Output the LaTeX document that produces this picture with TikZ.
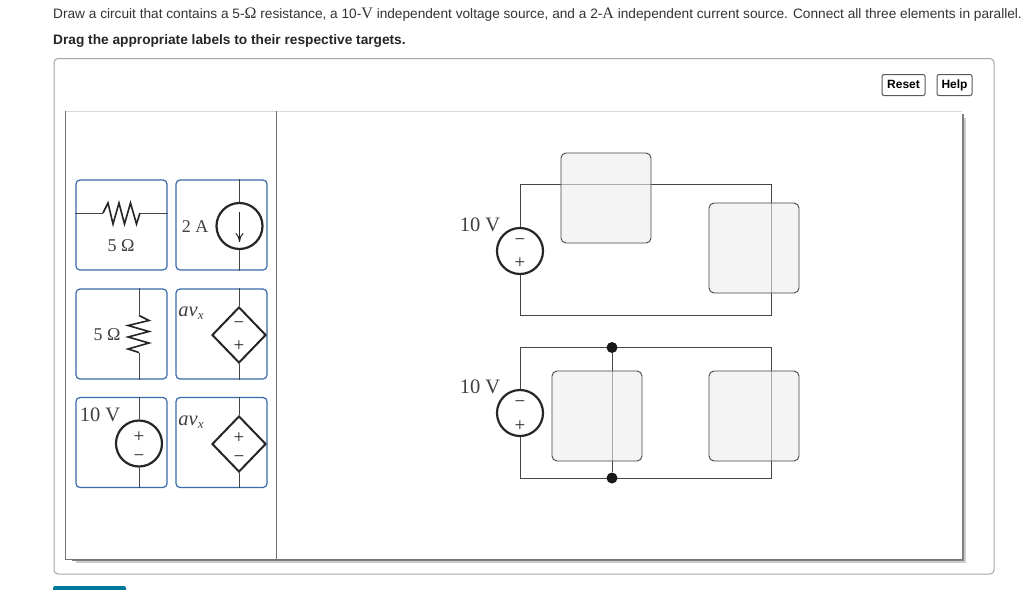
\documentclass[tikz,border=0pt]{standalone}
\usepackage{fontspec}
\setmainfont{Liberation Sans}
\newfontfamily\circuitfont{Liberation Serif}
\usetikzlibrary{calc}
\usetikzlibrary{positioning}
\usetikzlibrary{arrows.meta}
\usetikzlibrary{shapes.geometric}
\definecolor{tileblue}{RGB}{58,107,170}
\definecolor{panelgray}{RGB}{165,165,165}
\definecolor{wiregray}{RGB}{70,70,70}
\definecolor{targetfill}{RGB}{238,238,238}
\definecolor{submitteal}{RGB}{0,122,155}
\newcommand{\avlabel}{{\itshape av}\raisebox{-0.35ex}{\fontsize{13}{13}\selectfont\itshape x}}
\tikzset{
  tile/.style={draw=tileblue, line width=1.2pt, rounded corners=4pt, minimum width=91pt, minimum height=90pt, inner sep=0pt, fill=white},
  target/.style={draw=wiregray, line width=0.9pt, rounded corners=5pt, fill=targetfill, fill opacity=0.6, draw opacity=1, minimum width=90pt, minimum height=90pt, inner sep=0pt},
  wire/.style={draw=wiregray, line width=1pt},
  source/.style={circle, draw=black!85, line width=2.2pt, minimum size=46pt, inner sep=0pt, fill=white},
  dep/.style={diamond, draw=black!85, line width=2pt, minimum width=54pt, minimum height=56pt, inner sep=0pt, fill=white},
  value/.style={font=\circuitfont\fontsize{20.5}{22}\selectfont, text=black!75, inner sep=0pt},
  small value/.style={font=\circuitfont\fontsize{18}{20}\selectfont, text=black!75, inner sep=0pt},
  sign/.style={font=\circuitfont\fontsize{19}{19}\selectfont, text=black!85, inner sep=0pt, yshift=-3pt},
  junction/.style={circle, fill=black!90, minimum size=11pt, inner sep=0pt},
  btn/.style={draw=black!65, line width=1pt, rounded corners=2pt, font=\bfseries\fontsize{12}{14}\selectfont, minimum height=21pt, text height=9pt, text depth=2.5pt, inner sep=0pt},
  resistor/.pic={
    \coordinate (-in) at (-18.5,0);
    \coordinate (-out) at (18.5,0);
    \draw [black!85, line width=1.6pt, line join=miter]
      (-in) -- ++(5,-10) -- ++(5,21) -- ++(6,-21) -- ++(5.5,21) -- ++(6,-21) -- ++(6,21) -- (-out);
  }
}

\begin{document}
\begin{tikzpicture}[x=1pt, y=-1pt]
  \useasboundingbox (0,0) rectangle (1024,589);
  \fill [white] (0,0) rectangle (1024,589);

  % question text
  \node [anchor=west, inner sep=0pt, text=black!80, font=\fontsize{13.67}{15}\selectfont] (question) at (53,14.5)
    {Draw a circuit that contains a 5-{\circuitfont\fontsize{16}{15}\selectfont Ω} resistance, a 10-{\circuitfont\fontsize{16}{15}\selectfont V} independent voltage source, and a 2-{\circuitfont\fontsize{16}{15}\selectfont A} independent current source. Connect all three elements in parallel.};
  \node [anchor=west, inner sep=0pt, text=black!85, font=\bfseries\fontsize{13.7}{15}\selectfont] (drag) at (53,40.5)
    {Drag the appropriate labels to their respective targets.};

  % panel
  \draw [panelgray, line width=1pt, rounded corners=4pt] (54,58.5) rectangle (994,574);
  \fill [submitteal, rounded corners=1.5pt] (53,586) rectangle (126,592);
  \node [btn, minimum width=43pt] (reset) at (903.5,85) {Reset};
  \node [btn, minimum width=35pt] (help) at (954.5,85) {Help};

  % canvas
  \draw [black!20, line width=4pt] (964,118) -- (964,561) -- (76,561);
  \draw [black!50, line width=2pt] (963,114) -- (963,560) -- (72,560);
  \draw [black!15, line width=1pt] (65,111) -- (962,111);
  \draw [black!55, line width=1pt] (65.5,111) -- (65.5,559.5) -- (962,559.5);
  \draw [black!55, line width=1pt] (276.5,111) -- (276.5,559);

  % tiles
  \foreach \n/\x/\y in {a/121.5/225, b/221.5/225, c/121.5/334, d/221.5/334, e/121.5/442.5, f/221.5/442.5} {
    \node [tile] (tile\n) at (\x,\y) {};
  }

  % tile a
  \pic (resa) at (121.5,213) {resistor};
  \draw [wire] (tilea.west |- resa-in) -- (resa-in);
  \draw [wire] (resa-out) -- (tilea.east |- resa-out);
  \node [small value] (labela) at (121,245.5) {5 Ω};

  % tile b
  \node [source] (srcb) at (239.5,226) {};
  \draw [wire] (tileb.north -| srcb) -- (srcb.north);
  \draw [wire] (srcb.south) -- (tileb.south -| srcb);
  \draw [-{To[length=9pt,width=8pt]}, black!85, line width=1pt] ($(srcb)+(0,-14)$) -- ($(srcb)+(0,16)$);
  \node [small value] (labelb) at (195,226.5) {2 A};

  % tile c
  \pic [rotate=-90] (resc) at (139,334) {resistor};
  \draw [wire] (tilec.north -| resc-in) -- (resc-in);
  \draw [wire] (resc-out) -- (tilec.south -| resc-out);
  \node [small value] (labelc) at (107,334.5) {5 Ω};

  % tile d
  \node [dep] (depd) at (239,335) {};
  \draw [wire] (tiled.north -| depd) -- (depd.north);
  \draw [wire] (depd.south) -- (tiled.south -| depd);
  \node [sign] (minusd) at (239,322) {−};
  \node [sign] (plusd) at (239,343) {+};
  \node [value] (labeld) at (191,313) {\avlabel};

  % tile e
  \node [source] (srce) at (139,443.5) {};
  \draw [wire] (tilee.north -| srce) -- (srce.north);
  \draw [wire] (srce.south) -- (tilee.south -| srce);
  \node [sign] (pluse) at (139,434) {+};
  \node [sign] (minuse) at (139,455) {−};
  \node [value] (labele) at (100,415) {10 V};

  % tile f
  \node [dep] (depf) at (239,444) {};
  \draw [wire] (tilef.north -| depf) -- (depf.north);
  \draw [wire] (depf.south) -- (tilef.south -| depf);
  \node [sign] (plusf) at (239,435) {+};
  \node [sign] (minusf) at (239,456) {−};
  \node [value] (labelf) at (191,422) {\avlabel};

  % upper circuit
  \coordinate (topright) at (771,184);
  \coordinate (botright) at (771,315);
  \node [source] (srcup) at (520,251) {};
  \draw [wire] (srcup.north) |- (topright) -- (botright) -| (srcup.south);
  \node [sign] (minusup) at (520,239) {−};
  \node [sign] (plusup) at (520,260) {+};
  \node [value] (labelup) at (480,224.5) {10 V};
  \node [target] (slotone) at (606,198) {};
  \node [target] (slottwo) at (754,248) {};

  % lower circuit
  \coordinate (lowtopright) at (771,347.5);
  \coordinate (lowbotright) at (771,478);
  \node [source] (srclow) at (520,413) {};
  \draw [wire] (srclow.north) |- (lowtopright) -- (lowbotright) -| (srclow.south);
  \node [sign] (minuslow) at (520,401) {−};
  \node [sign] (pluslow) at (520,423) {+};
  \node [value] (labellow) at (480,386.5) {10 V};
  \node [junction] (nodetop) at (612,347.5) {};
  \node [junction] (nodebot) at (612,478) {};
  \draw [wire] (nodetop) -- (nodebot);
  \node [target] (slotthree) at (597,416) {};
  \node [target] (slotfour) at (754,416) {};

\end{tikzpicture}
\end{document}
